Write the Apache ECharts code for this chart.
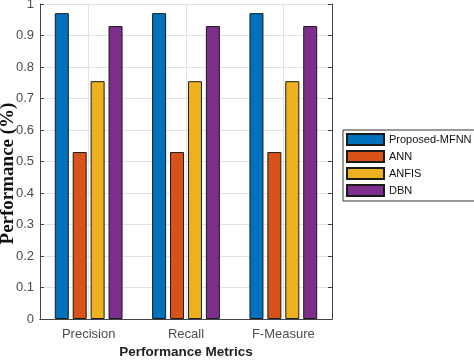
<!DOCTYPE html>
<html><head><meta charset="utf-8">
<script src="https://cdn.jsdelivr.net/npm/echarts@6/dist/echarts.min.js"></script>
<style>html,body{margin:0;padding:0;background:#fff}#c{width:474px;height:360px}</style>
</head><body><div id="c"></div>
<script>
const categories = ['Precision', 'Recall', 'F-Measure'];
const seriesNames = ['Proposed-MFNN', 'ANN', 'ANFIS', 'DBN'];
const proposedMFNN = [0.971, 0.971, 0.971];
const ann = [0.530, 0.530, 0.530];
const anfis = [0.755, 0.755, 0.755];
const dbn = [0.930, 0.930, 0.930];
const colors = ['#0072BD', '#D95319', '#EDB120', '#7E2F8E'];
const yTickLabels = ['0','0.1','0.2','0.3','0.4','0.5','0.6','0.7','0.8','0.9','1'];

const values = [proposedMFNN, ann, anfis, dbn];
const chart = echarts.init(document.getElementById('c'));
const tickColor = '#444';
const labelFont = {color: '#4d4d4d', fontSize: 13, fontFamily: 'Liberation Sans, Arial, sans-serif'};
chart.setOption({
  animation: false,
  grid: {left: 40, right: 142, top: 4, bottom: 41, containLabel: false, outerBoundsMode: 'none'},
  legend: {
    orient: 'vertical', left: 343, top: 130,
    itemWidth: 37, itemHeight: 11, itemGap: 4,
    padding: [3, 4, 4, 3],
    backgroundColor: '#fff', borderColor: '#333', borderWidth: 1,
    icon: 'rect',
    textStyle: {color: '#111', fontSize: 11, fontFamily: 'Liberation Sans, Arial, sans-serif'},
    data: seriesNames
  },
  xAxis: [{
    type: 'category', data: categories, position: 'bottom',
    name: 'Performance Metrics', nameLocation: 'middle', nameGap: 26, nameMoveOverlap: false,
    nameTextStyle: {fontWeight: 'bold', fontSize: 13.5, color: '#222', fontFamily: 'Liberation Sans, Arial, sans-serif'},
    axisLine: {lineStyle: {color: tickColor}},
    axisTick: {inside: true, alignWithLabel: true, length: 4, lineStyle: {color: tickColor}},
    axisLabel: Object.assign({margin: 9}, labelFont),
    splitLine: {show: true, alignWithLabel: true, lineStyle: {color: '#e2e2e2'}}
  }, {
    type: 'category', data: categories, position: 'top',
    axisLine: {lineStyle: {color: tickColor}},
    axisTick: {inside: true, alignWithLabel: true, length: 4, lineStyle: {color: tickColor}},
    axisLabel: {show: false}
  }],
  yAxis: [{
    type: 'value', min: 0, max: 1, interval: 0.1, position: 'left',
    name: 'Performance (%)', nameLocation: 'middle', nameGap: 22, nameMoveOverlap: false,
    nameTextStyle: {fontWeight: 'bold', fontSize: 19, color: '#111', padding: [0, 24, 0, 0], fontFamily: 'Liberation Serif, Times New Roman, serif'},
    axisLine: {show: true, lineStyle: {color: tickColor}},
    axisTick: {show: true, inside: true, length: 4, lineStyle: {color: tickColor}},
    axisLabel: Object.assign({margin: 6, formatter: (v, i) => yTickLabels[i]}, labelFont),
    splitLine: {show: true, lineStyle: {color: '#e2e2e2'}}
  }, {
    type: 'value', min: 0, max: 1, interval: 0.1, position: 'right',
    axisLine: {show: true, lineStyle: {color: tickColor}},
    axisTick: {show: true, inside: true, length: 4, lineStyle: {color: tickColor}},
    axisLabel: {show: false}, splitLine: {show: false}
  }],
  series: seriesNames.map((n, i) => ({
    name: n, type: 'bar', data: values[i], barWidth: 14, barGap: '28%',
    itemStyle: {color: colors[i], borderColor: '#1a1a1a', borderWidth: 1}
  }))
});
</script></body></html>
